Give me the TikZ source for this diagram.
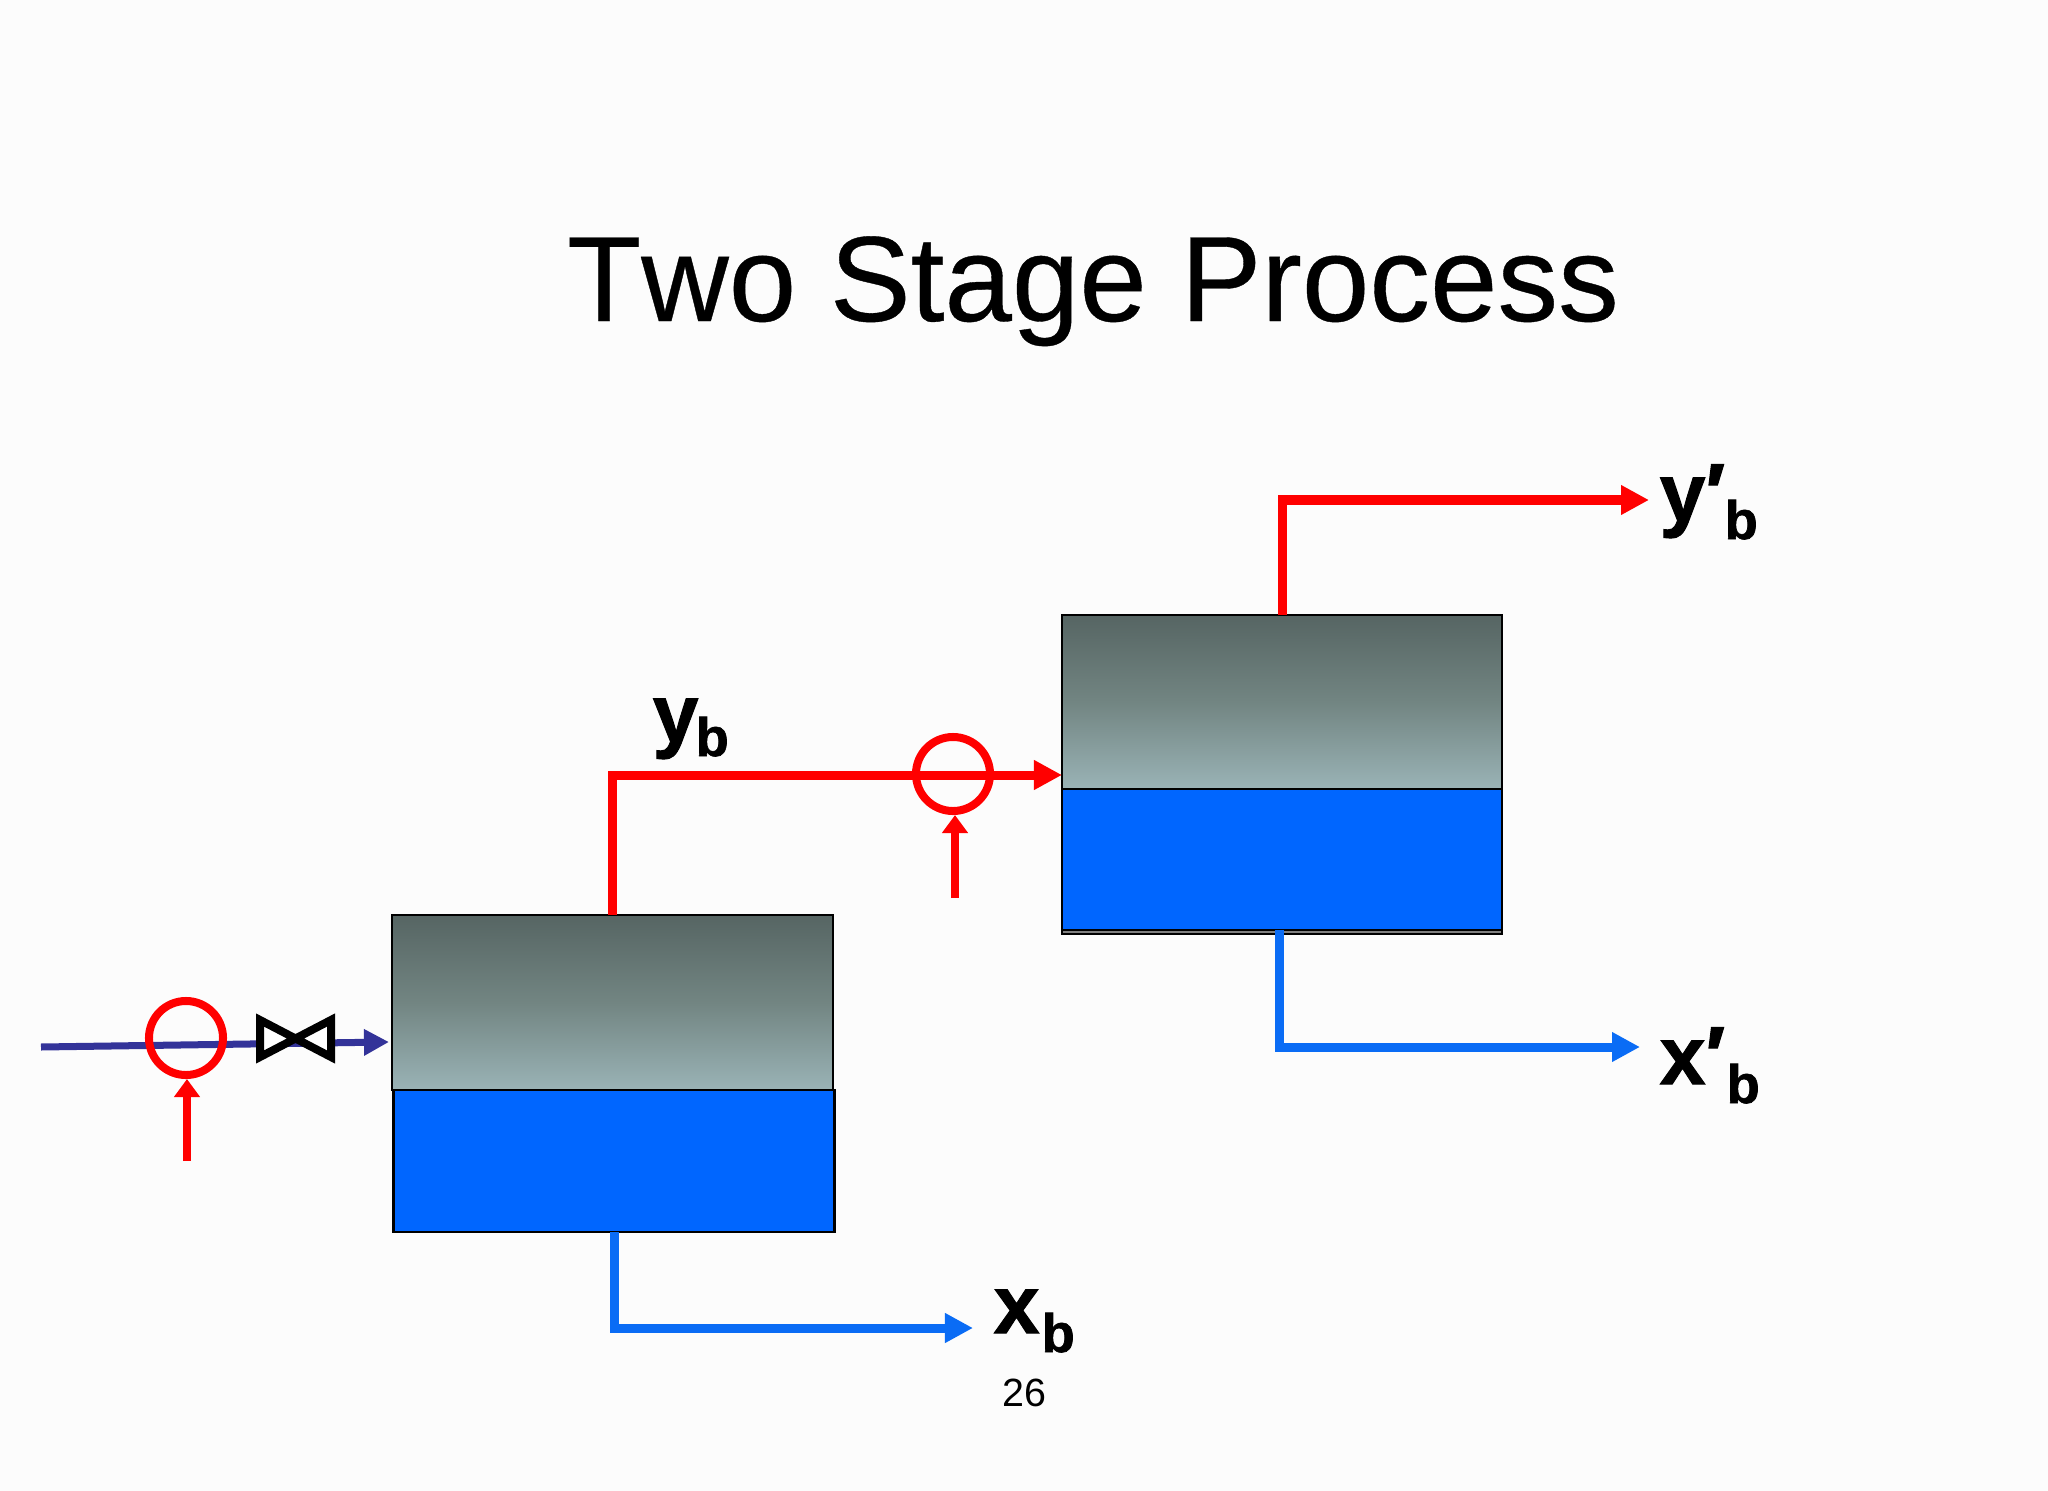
\documentclass[tikz,border=0pt]{standalone}
\usepackage{fontspec}
\setmainfont{Liberation Sans}
\newfontfamily\titlefont[Kerning=Off,FakeBold=0.3]{Liberation Sans}
\newfontfamily\heavyfont[BoldFeatures={FakeBold=1.2}]{Liberation Sans}
\usetikzlibrary{arrows.meta}

\definecolor{hotred}{HTML}{FF0000}
\definecolor{coldblue}{HTML}{0A6CF5}
\definecolor{liquidblue}{HTML}{0066FF}
\definecolor{feednavy}{HTML}{333399}
\definecolor{gastop}{HTML}{566563}
\definecolor{gasmid}{HTML}{728582}
\definecolor{gasbottom}{HTML}{9AB3B6}

\tikzset{
  gasbox/.style={draw=black, line width=0.02cm, top color=gastop, bottom color=gasbottom, middle color=gasmid,
    minimum width=4.4cm, inner sep=0pt, outer sep=0pt},
  liquidbox/.style={draw=black, line width=0.025cm, fill=liquidblue,
    minimum width=4.41cm, inner sep=0pt, outer sep=0pt},
  ring/.style={draw=hotred, line width=0.08cm, circle, minimum size=0.74cm, inner sep=0pt},
  redline/.style={draw=hotred, line width=0.09cm, -{Triangle[length=0.28cm,width=0.28cm]}},
  blueline/.style={draw=coldblue, line width=0.09cm, -{Triangle[length=0.28cm,width=0.28cm]}},
  sensorline/.style={draw=hotred, line width=0.075cm, -{Triangle[length=0.18cm,width=0.25cm]}},
  feedline/.style={draw=feednavy, line width=0.07cm, -{Triangle[length=0.25cm,width=0.25cm]}},
  stream/.style={anchor=base west, inner sep=0pt, font=\heavyfont\fontsize{23.4}{24}\selectfont\bfseries},
  subb/.style={anchor=base west, inner sep=0pt, font=\heavyfont\fontsize{15.4}{16}\selectfont\bfseries}
}

\begin{document}
\begin{tikzpicture}[x=0.01cm,y=-0.01cm]

\fill [white!99!black] (0,0) rectangle (2048,1491);
\useasboundingbox (0,0) rectangle (2048,1491);

\coordinate (feedstart) at (41,1047);
\coordinate (feedend) at (389,1042);
\coordinate (sensorA) at (187,1161);
\coordinate (sensorB) at (955,898);
\coordinate (pinB) at (1062,775);
\coordinate (drainB) at (1279,930);
\coordinate (outYB) at (1649,500);
\coordinate (outXB) at (1640,1047);
\coordinate (outXA) at (973,1328);
\coordinate (VA) at (260,1020);
\coordinate (VB) at (331,1057);
\coordinate (VC) at (331,1020);
\coordinate (VD) at (260,1057);

\node [anchor=base] (title) at (1093,321) {\titlefont\fontsize{34.5}{36}\selectfont Two Stage Process};

% first stage
\node [gasbox, minimum height=1.75cm] (gasA) at (612.5,1002.5) {};
\node [liquidbox, minimum height=1.42cm] (liquidA) at (614,1161) {};

% second stage
\node [draw=black, fill=gray, line width=0.02cm, minimum width=4.4cm, minimum height=1.45cm, inner sep=0pt, outer sep=0pt] (baseB) at (1282,861.5) {};
\node [gasbox, minimum height=1.74cm] (gasB) at (1282,702) {};
\node [liquidbox, minimum height=1.41cm, minimum width=4.4cm] (liquidB) at (1282,859.5) {};

% feed and valve
\draw [feedline] (feedstart) -- (feedend);
\node [ring] (ringA) at (186,1038) {};
\draw [black, line width=0.08cm, fill=white, line join=miter] (VA)--(VB)--(VC)--(VD)--cycle;
\draw [sensorline] (sensorA) -- (sensorA |- ringA.south);

% streams
\draw [redline] (gasA.north) |- (pinB);
\node [ring] (ringB) at (953,774) {};
\draw [sensorline] (sensorB) -- (sensorB |- ringB.south);
\draw [redline] (gasB.north) |- (outYB);
\draw [blueline] (drainB) |- (outXB);
\draw [blueline] (liquidA.south) |- (outXA);

% labels
\node [stream] (yA) at (652,742) {y};
\node [subb] (yAb) at (695,756) {b};
\node [stream] (xA) at (993,1333) {x};
\node [subb] (xAb) at (1041,1352) {b};
\node [stream] (yB) at (1659,521) {y′};
\node [subb] (yBb) at (1724,539) {b};
\node [stream] (xB) at (1659,1084) {x′};
\node [subb] (xBb) at (1726,1103) {b};

\node [anchor=base] (page) at (1024,1406) {\fontsize{11.2}{12}\selectfont 26};

\end{tikzpicture}
\end{document}
